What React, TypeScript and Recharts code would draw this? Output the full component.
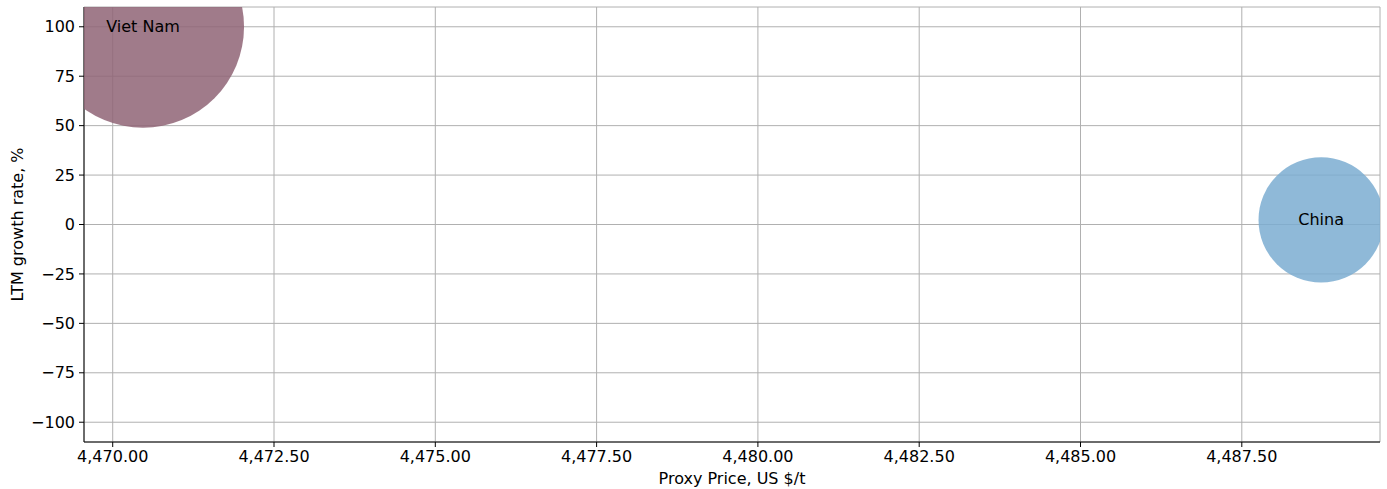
import { ScatterChart, Scatter, XAxis, YAxis, ZAxis, CartesianGrid } from 'recharts';

const countries = ['Viet Nam', 'China'];
const proxyPrices = [4470.47, 4488.73];
const growthRates = [100, 2.3];
const volumes = [260, 100];
const colors = ['#8f6475', '#7badd1'];

const xTicks = [4470, 4472.5, 4475, 4477.5, 4480, 4482.5, 4485, 4487.5];
const yTicks = [-100, -75, -50, -25, 0, 25, 50, 75, 100];

const data = countries.map((name, i) => ({
  name,
  price: proxyPrices[i],
  growth: growthRates[i],
  volume: volumes[i],
  color: colors[i],
}));

const FONT = 'DejaVu Sans, sans-serif';
const MAX_R = 101;

const fmtX = (v: number) =>
  v.toLocaleString('en-US', { minimumFractionDigits: 2, maximumFractionDigits: 2 });
const fmtY = (v: number) => (v < 0 ? `\u2212${Math.abs(v)}` : `${v}`);

function Bubble(props: any) {
  const { cx, cy, size, payload } = props;
  const r = Math.sqrt(size / Math.PI);
  return (
    <g>
      <circle cx={cx} cy={cy} r={r} fill={payload.color} fillOpacity={0.85} />
      <text
        x={cx}
        y={cy}
        textAnchor="middle"
        dominantBaseline="central"
        fontFamily={FONT}
        fontSize={16}
        fill="#000"
      >
        {payload.name}
      </text>
    </g>
  );
}

export default function App() {
  return (
    <div style={{ position: 'absolute', left: 0, top: 0, background: '#fff' }}>
      <ScatterChart width={1387} height={489} margin={{ top: 7, right: 7, left: 0, bottom: 0 }}>
        <CartesianGrid stroke="#b0b0b0" strokeWidth={1} />
        <XAxis
          type="number"
          dataKey="price"
          domain={[4469.555, 4489.642]}
          ticks={xTicks}
          tickFormatter={fmtX}
          allowDataOverflow
          height={47}
          tickSize={5}
          tickMargin={4}
          stroke="#000"
          tick={{ fill: '#000', fontSize: 16, fontFamily: FONT }}
          label={{
            value: 'Proxy Price, US $/t',
            position: 'insideBottom',
            offset: 5,
            fill: '#000',
            fontSize: 16,
            fontFamily: FONT,
          }}
        />
        <XAxis xAxisId="top" orientation="top" type="number" domain={[0, 1]} height={0} tick={false} tickLine={false} stroke="#000" />
        <YAxis
          type="number"
          dataKey="growth"
          domain={[-110, 110]}
          ticks={yTicks}
          tickFormatter={fmtY}
          allowDataOverflow
          width={84}
          tickSize={5}
          tickMargin={4}
          stroke="#000"
          tick={{ fill: '#000', fontSize: 16, fontFamily: FONT }}
          label={{
            value: 'LTM growth rate, %',
            angle: -90,
            position: 'insideLeft',
            offset: 17,
            style: { textAnchor: 'middle' },
            fill: '#000',
            fontSize: 16,
            fontFamily: FONT,
          }}
        />
        <YAxis yAxisId="right" orientation="right" type="number" domain={[0, 1]} width={0} tick={false} tickLine={false} stroke="#000" />
        <ZAxis type="number" dataKey="volume" domain={[0, 260]} range={[0, Math.PI * MAX_R * MAX_R]} />
        <Scatter data={data} shape={<Bubble />} isAnimationActive={false} />
      </ScatterChart>
    </div>
  );
}
